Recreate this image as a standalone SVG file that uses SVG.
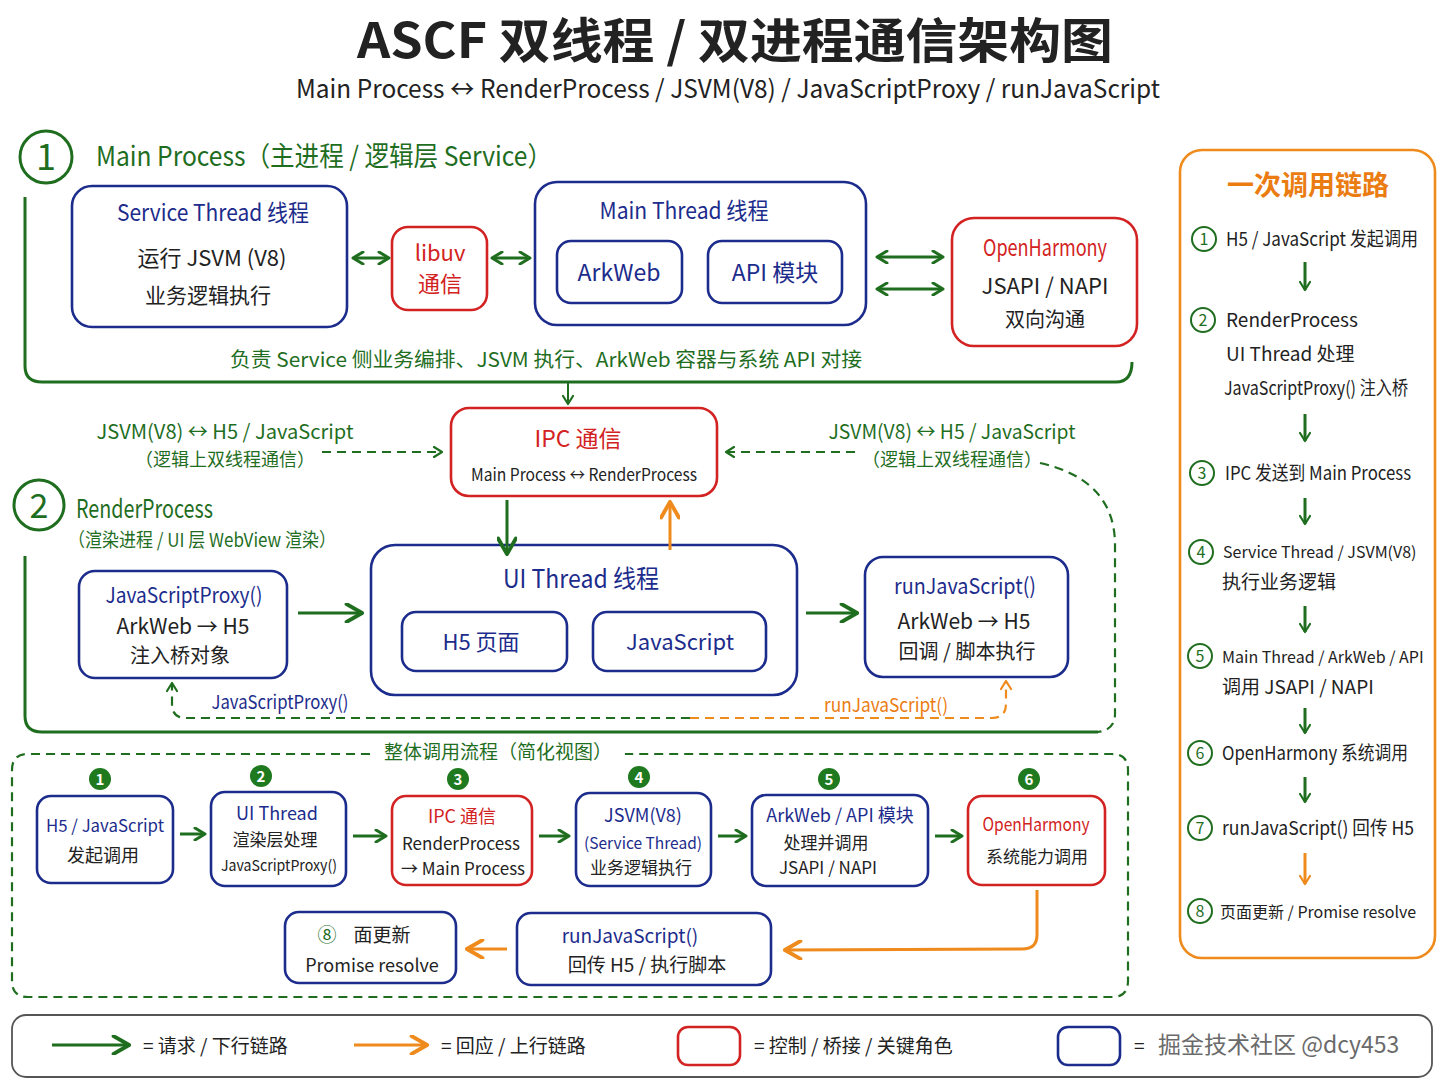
<svg xmlns="http://www.w3.org/2000/svg" width="1448" height="1086" viewBox="0 0 1448 1086">
<defs>
<style>
text{font-family:"Noto Sans CJK SC","Noto Sans",sans-serif;}
.t{text-anchor:middle;}
.g{fill:#1f6e1f;}
.b{fill:#1c2c8c;}
.r{fill:#d32222;}
.o{fill:#ea7c12;}
.k{fill:#222;}
.box{fill:#fff;stroke-width:2.6;}
.bb{stroke:#1c2c8c;}
.rb{stroke:#d32222;}
.ln{fill:none;stroke-width:3;}
.gl{stroke:#1f6e1f;}
.ol{stroke:#ef8a1c;}
.dash{stroke-dasharray:9 6;stroke-width:2.2;}
</style>
<marker id="ag" viewBox="0 0 14 14" refX="11" refY="7" markerWidth="14" markerHeight="14" markerUnits="userSpaceOnUse" orient="auto-start-reverse"><path d="M2,1 L12,7 L2,13" fill="none" stroke="#1f6e1f" stroke-width="3" stroke-linecap="round" stroke-linejoin="round"/></marker>
<marker id="agL" viewBox="0 0 18 18" refX="15" refY="9" markerWidth="20" markerHeight="20" markerUnits="userSpaceOnUse" orient="auto-start-reverse"><path d="M2,1 L16,9 L2,17" fill="none" stroke="#1f6e1f" stroke-width="3.5" stroke-linecap="round" stroke-linejoin="round"/></marker>
<marker id="ao" viewBox="0 0 18 18" refX="15" refY="9" markerWidth="20" markerHeight="20" markerUnits="userSpaceOnUse" orient="auto-start-reverse"><path d="M2,1 L16,9 L2,17" fill="none" stroke="#ef8a1c" stroke-width="3.5" stroke-linecap="round" stroke-linejoin="round"/></marker>
<marker id="agS" viewBox="0 0 12 12" refX="10" refY="6" markerWidth="12" markerHeight="12" markerUnits="userSpaceOnUse" orient="auto-start-reverse"><path d="M2,1 L10,6 L2,11" fill="none" stroke="#1f6e1f" stroke-width="2.2" stroke-linecap="round" stroke-linejoin="round"/></marker>
<marker id="aoS" viewBox="0 0 12 12" refX="10" refY="6" markerWidth="12" markerHeight="12" markerUnits="userSpaceOnUse" orient="auto-start-reverse"><path d="M2,1 L10,6 L2,11" fill="none" stroke="#ef8a1c" stroke-width="2.2" stroke-linecap="round" stroke-linejoin="round"/></marker>
</defs>
<rect width="1448" height="1086" fill="#fff"/>

<!-- Title -->
<g id="title">
<text x="735" y="58" class="t k" font-size="48" font-weight="bold" textLength="756" lengthAdjust="spacingAndGlyphs">ASCF 双线程 / 双进程通信架构图</text>
<text x="728" y="98" class="t k" font-size="25" textLength="864" lengthAdjust="spacingAndGlyphs">Main Process ↔ RenderProcess / JSVM(V8) / JavaScriptProxy / runJavaScript</text>
</g>

<!-- Section 1 -->
<g id="section1">
<circle cx="46" cy="157" r="26" fill="none" stroke="#1f6e1f" stroke-width="3"/>
<text x="46" y="170" class="t g" font-size="36">1</text>
<text x="96" y="166" class="g" font-size="27" textLength="456" lengthAdjust="spacingAndGlyphs">Main Process（主进程 / 逻辑层 Service）</text>
<path d="M25,197 L25,366 Q25,382 42,382 L1116,382 Q1132,382 1132,362" class="ln gl" stroke-width="2.4"/>
<text x="546" y="367" class="t g" font-size="20" textLength="632" lengthAdjust="spacingAndGlyphs">负责 Service 侧业务编排、JSVM 执行、ArkWeb 容器与系统 API 对接</text>
</g>

<g id="service-thread">
<rect x="72" y="186" width="275" height="141" rx="20" class="box bb"/>
<text x="213" y="221" class="t b" font-size="23" textLength="192" lengthAdjust="spacingAndGlyphs">Service Thread 线程</text>
<text x="212" y="266" class="t k" font-size="22">运行 JSVM (V8)</text>
<text x="208" y="303" class="t k" font-size="21">业务逻辑执行</text>
</g>
<g id="libuv">
<rect x="392" y="227" width="95" height="83" rx="16" class="box rb"/>
<text x="440" y="261" class="t r" font-size="22">libuv</text>
<text x="440" y="292" class="t r" font-size="22">通信</text>
</g>
<g id="main-thread">
<rect x="535" y="182" width="331" height="143" rx="22" class="box bb"/>
<text x="684" y="219" class="t b" font-size="23" textLength="169" lengthAdjust="spacingAndGlyphs">Main Thread 线程</text>
</g>
<g id="arkweb">
<rect x="557" y="241" width="125" height="62" rx="14" class="box bb"/>
<text x="619" y="281" class="t b" font-size="23">ArkWeb</text>
</g>
<g id="api-module">
<rect x="708" y="241" width="134" height="62" rx="14" class="box bb"/>
<text x="775" y="281" class="t b" font-size="23">API 模块</text>
</g>
<g id="openharmony">
<rect x="952" y="218" width="185" height="128" rx="22" class="box rb"/>
<text x="1045" y="256" class="t r" font-size="23" textLength="124" lengthAdjust="spacingAndGlyphs">OpenHarmony</text>
<text x="1045" y="294" class="t k" font-size="22">JSAPI / NAPI</text>
<text x="1045" y="327" class="t k" font-size="20">双向沟通</text>
</g>

<!-- IPC -->
<g id="ipc">
<rect x="451" y="408" width="266" height="88" rx="18" class="box rb"/>
<text x="578" y="447" class="t r" font-size="23">IPC 通信</text>
<text x="584" y="481" class="t k" font-size="17" textLength="226" lengthAdjust="spacingAndGlyphs">Main Process ↔ RenderProcess</text>
</g>
<g id="label-left">
<text x="225" y="439" class="t g" font-size="20" textLength="257" lengthAdjust="spacingAndGlyphs">JSVM(V8) ↔ H5 / JavaScript</text>
<text x="225" y="466" class="t g" font-size="18">（逻辑上双线程通信）</text>
</g>
<g id="label-right">
<text x="952" y="439" class="t g" font-size="20" textLength="247" lengthAdjust="spacingAndGlyphs">JSVM(V8) ↔ H5 / JavaScript</text>
<text x="952" y="466" class="t g" font-size="18">（逻辑上双线程通信）</text>
</g>

<!-- Section 2 -->
<g id="section2">
<circle cx="39" cy="505" r="25" fill="none" stroke="#1f6e1f" stroke-width="3"/>
<text x="39" y="518" class="t g" font-size="34">2</text>
<text x="76" y="518" class="g" font-size="26" textLength="137" lengthAdjust="spacingAndGlyphs">RenderProcess</text>
<text x="68" y="547" class="g" font-size="19" textLength="268" lengthAdjust="spacingAndGlyphs">（渲染进程 / UI 层 WebView 渲染）</text>
<path d="M25,556 L25,716 Q25,732 42,732 L1098,732" class="ln gl" stroke-width="2.4"/>
<path d="M1040,463 Q1115,480 1115,545 L1115,714 Q1115,730 1098,732" class="ln gl dash"/>
</g>

<g id="jsproxy">
<rect x="79" y="571" width="208" height="107" rx="16" class="box bb"/>
<text x="184" y="603" class="t b" font-size="21" textLength="157" lengthAdjust="spacingAndGlyphs">JavaScriptProxy()</text>
<text x="183" y="634" class="t k" font-size="21">ArkWeb → H5</text>
<text x="180" y="663" class="t k" font-size="20">注入桥对象</text>
</g>
<g id="ui-thread">
<rect x="371" y="545" width="426" height="150" rx="24" class="box bb"/>
<text x="581" y="588" class="t b" font-size="25" textLength="156" lengthAdjust="spacingAndGlyphs">UI Thread 线程</text>
</g>
<g id="h5-page">
<rect x="402" y="612" width="165" height="59" rx="14" class="box bb"/>
<text x="481" y="650" class="t b" font-size="22">H5 页面</text>
</g>
<g id="javascript">
<rect x="593" y="612" width="173" height="59" rx="14" class="box bb"/>
<text x="680" y="650" class="t b" font-size="22">JavaScript</text>
</g>
<g id="runjs">
<rect x="865" y="557" width="203" height="120" rx="18" class="box bb"/>
<text x="965" y="594" class="t b" font-size="22" textLength="142" lengthAdjust="spacingAndGlyphs">runJavaScript()</text>
<text x="964" y="629" class="t k" font-size="21">ArkWeb → H5</text>
<text x="967" y="659" class="t k" font-size="20">回调 / 脚本执行</text>
</g>
<text x="280" y="709" class="t b" font-size="19" textLength="137" lengthAdjust="spacingAndGlyphs">JavaScriptProxy()</text>
<text x="886" y="712" class="t o" font-size="19" textLength="124" lengthAdjust="spacingAndGlyphs">runJavaScript()</text>

<!-- Bottom flow -->
<g id="flow-frame">
<path d="M370,754 L28,754 Q12,754 12,770 L12,981 Q12,997 28,997 L1112,997 Q1128,997 1128,981 L1128,770 Q1128,754 1112,754 L625,754" class="ln gl dash"/>
<text x="498" y="759" class="t g" font-size="19">整体调用流程（简化视图）</text>
</g>
<g id="steps" font-weight="bold">
<circle cx="100" cy="779" r="11" fill="#1f7a1f"/><text x="100" y="785" class="t" fill="#fff" font-size="15">1</text>
<circle cx="261" cy="776" r="11" fill="#1f7a1f"/><text x="261" y="782" class="t" fill="#fff" font-size="15">2</text>
<circle cx="458" cy="779" r="11" fill="#1f7a1f"/><text x="458" y="785" class="t" fill="#fff" font-size="15">3</text>
<circle cx="639" cy="777" r="11" fill="#1f7a1f"/><text x="639" y="783" class="t" fill="#fff" font-size="15">4</text>
<circle cx="829" cy="779" r="11" fill="#1f7a1f"/><text x="829" y="785" class="t" fill="#fff" font-size="15">5</text>
<circle cx="1029" cy="779" r="11" fill="#1f7a1f"/><text x="1029" y="785" class="t" fill="#fff" font-size="15">6</text>
</g>
<g id="f1">
<rect x="37" y="796" width="136" height="87" rx="14" class="box bb"/>
<text x="105" y="832" class="t b" font-size="17" textLength="118" lengthAdjust="spacingAndGlyphs">H5 / JavaScript</text>
<text x="103" y="862" class="t k" font-size="18">发起调用</text>
</g>
<g id="f2">
<rect x="211" y="792" width="135" height="94" rx="14" class="box bb"/>
<text x="277" y="820" class="t b" font-size="18">UI Thread</text>
<text x="275" y="846" class="t k" font-size="17">渲染层处理</text>
<text x="279" y="871" class="t k" font-size="15" textLength="116" lengthAdjust="spacingAndGlyphs">JavaScriptProxy()</text>
</g>
<g id="f3">
<rect x="392" y="796" width="140" height="89" rx="14" class="box rb"/>
<text x="462" y="823" class="t r" font-size="18">IPC 通信</text>
<text x="461" y="850" class="t k" font-size="17">RenderProcess</text>
<text x="463" y="875" class="t k" font-size="17">→ Main Process</text>
</g>
<g id="f4">
<rect x="576" y="793" width="135" height="93" rx="14" class="box bb"/>
<text x="643" y="822" class="t b" font-size="18">JSVM(V8)</text>
<text x="643" y="849" class="t b" font-size="16" textLength="118" lengthAdjust="spacingAndGlyphs">(Service Thread)</text>
<text x="641" y="874" class="t k" font-size="17">业务逻辑执行</text>
</g>
<g id="f5">
<rect x="752" y="795" width="176" height="91" rx="14" class="box bb"/>
<text x="840" y="822" class="t b" font-size="18">ArkWeb / API 模块</text>
<text x="826" y="849" class="t k" font-size="17">处理并调用</text>
<text x="828" y="874" class="t k" font-size="17">JSAPI / NAPI</text>
</g>
<g id="f6">
<rect x="968" y="796" width="137" height="89" rx="14" class="box rb"/>
<text x="1036" y="831" class="t r" font-size="18" textLength="107" lengthAdjust="spacingAndGlyphs">OpenHarmony</text>
<text x="1037" y="863" class="t k" font-size="17">系统能力调用</text>
</g>
<g id="f7">
<rect x="517" y="913" width="254" height="72" rx="14" class="box bb"/>
<text x="630" y="943" class="t b" font-size="19">runJavaScript()</text>
<text x="647" y="972" class="t k" font-size="19">回传 H5 / 执行脚本</text>
</g>
<g id="f8">
<rect x="285" y="912" width="171" height="71" rx="14" class="box bb"/>
<text x="327" y="942" class="t g" font-size="19">⑧</text>
<text x="382" y="942" class="t k" font-size="19">面更新</text>
<text x="372" y="972" class="t k" font-size="18">Promise resolve</text>
</g>

<!-- Right panel -->
<g id="call-chain">
<rect x="1180" y="150" width="255" height="808" rx="22" fill="#fff" stroke="#ef8a1c" stroke-width="2.6"/>
<text x="1308" y="195" class="t o" font-size="27" font-weight="bold">一次调用链路</text>
<g fill="none" stroke="#1f6e1f" stroke-width="2">
<circle cx="1204" cy="239" r="12"/><circle cx="1203" cy="320" r="12"/><circle cx="1202" cy="473" r="12"/>
<circle cx="1201" cy="552" r="12"/><circle cx="1200" cy="656" r="12"/><circle cx="1200" cy="753" r="12"/>
<circle cx="1200" cy="828" r="12"/><circle cx="1200" cy="911" r="12"/>
</g>
<g class="t g" font-size="16">
<text x="1204" y="245" class="t g">1</text><text x="1203" y="326" class="t g">2</text><text x="1202" y="479" class="t g">3</text>
<text x="1201" y="558" class="t g">4</text><text x="1200" y="662" class="t g">5</text><text x="1200" y="759" class="t g">6</text>
<text x="1200" y="834" class="t g">7</text><text x="1200" y="917" class="t g">8</text>
</g>
<g class="k" font-size="19">
<text x="1226" y="246" textLength="192" lengthAdjust="spacingAndGlyphs">H5 / JavaScript 发起调用</text>
<text x="1226" y="327">RenderProcess</text>
<text x="1226" y="361">UI Thread 处理</text>
<text x="1224" y="395" textLength="184" lengthAdjust="spacingAndGlyphs">JavaScriptProxy() 注入桥</text>
<text x="1225" y="480" textLength="186" lengthAdjust="spacingAndGlyphs">IPC 发送到 Main Process</text>
<text x="1223" y="558" font-size="16">Service Thread / JSVM(V8)</text>
<text x="1222" y="589">执行业务逻辑</text>
<text x="1222" y="663" font-size="16">Main Thread / ArkWeb / API</text>
<text x="1222" y="694">调用 JSAPI / NAPI</text>
<text x="1222" y="760" textLength="186" lengthAdjust="spacingAndGlyphs">OpenHarmony 系统调用</text>
<text x="1222" y="835" textLength="192" lengthAdjust="spacingAndGlyphs">runJavaScript() 回传 H5</text>
<text x="1220" y="918" font-size="16">页面更新 / Promise resolve</text>
</g>
</g>

<!-- Connectors -->
<g id="connectors">
<line x1="354" y1="258" x2="388" y2="258" class="ln gl" marker-start="url(#ag)" marker-end="url(#ag)"/>
<line x1="493" y1="258" x2="529" y2="258" class="ln gl" marker-start="url(#ag)" marker-end="url(#ag)"/>
<line x1="878" y1="257" x2="942" y2="257" class="ln gl" marker-start="url(#ag)" marker-end="url(#ag)"/>
<line x1="878" y1="289" x2="942" y2="289" class="ln gl" marker-start="url(#ag)" marker-end="url(#ag)"/>
<line x1="568" y1="383" x2="568" y2="404" class="gl" stroke-width="2" marker-end="url(#agS)"/>
<line x1="322" y1="452" x2="442" y2="452" class="ln gl dash" marker-end="url(#agS)"/>
<line x1="855" y1="452" x2="726" y2="452" class="ln gl dash" marker-end="url(#agS)"/>
<line x1="507" y1="500" x2="507" y2="553" class="ln gl" marker-end="url(#agL)"/>
<line x1="670" y1="550" x2="670" y2="503" class="ln ol" marker-end="url(#ao)"/>
<line x1="298" y1="613" x2="361" y2="613" class="ln gl" stroke-width="4" marker-end="url(#agL)"/>
<line x1="806" y1="613" x2="856" y2="613" class="ln gl" stroke-width="4" marker-end="url(#agL)"/>
<path d="M690,718 L186,718 Q172,718 172,704 L172,683" class="ln gl dash" marker-end="url(#agS)"/>
<path d="M690,718 L992,718 Q1006,718 1006,704 L1006,681" class="ln ol dash" marker-end="url(#aoS)"/>
<line x1="180" y1="834" x2="204" y2="834" class="ln gl" marker-end="url(#ag)"/>
<line x1="353" y1="836" x2="385" y2="836" class="ln gl" marker-end="url(#ag)"/>
<line x1="539" y1="836" x2="568" y2="836" class="ln gl" marker-end="url(#ag)"/>
<line x1="718" y1="836" x2="745" y2="836" class="ln gl" marker-end="url(#ag)"/>
<line x1="935" y1="836" x2="961" y2="836" class="ln gl" marker-end="url(#ag)"/>
<path d="M1037,890 L1037,935 Q1037,949 1022,949 L786,950" class="ln ol" marker-end="url(#ao)"/>
<line x1="507" y1="949" x2="468" y2="949" class="ln ol" marker-end="url(#ao)"/>
<g class="ln gl" stroke-width="2.5">
<line x1="1305" y1="262" x2="1305" y2="290" marker-end="url(#agS)"/>
<line x1="1305" y1="414" x2="1305" y2="441" marker-end="url(#agS)"/>
<line x1="1305" y1="498" x2="1305" y2="524" marker-end="url(#agS)"/>
<line x1="1305" y1="606" x2="1305" y2="632" marker-end="url(#agS)"/>
<line x1="1305" y1="708" x2="1305" y2="733" marker-end="url(#agS)"/>
<line x1="1305" y1="777" x2="1305" y2="802" marker-end="url(#agS)"/>
</g>
<line x1="1305" y1="853" x2="1305" y2="884" class="ln ol" stroke-width="2.5" marker-end="url(#aoS)"/>
</g>

<!-- Legend -->
<g id="legend">
<rect x="12" y="1015" width="1420" height="62" rx="14" fill="#fff" stroke="#555" stroke-width="1.8"/>
<line x1="52" y1="1045" x2="128" y2="1045" class="ln gl" stroke-width="4" marker-end="url(#agL)"/>
<text x="143" y="1053" class="k" font-size="19">= 请求 / 下行链路</text>
<line x1="354" y1="1045" x2="426" y2="1045" class="ln ol" stroke-width="4" marker-end="url(#ao)"/>
<text x="441" y="1053" class="k" font-size="19">= 回应 / 上行链路</text>
<rect x="678" y="1027" width="62" height="38" rx="10" fill="#fff" stroke="#d32222" stroke-width="2.6"/>
<text x="754" y="1053" class="k" font-size="19">= 控制 / 桥接 / 关键角色</text>
<rect x="1058" y="1027" width="62" height="38" rx="10" fill="#fff" stroke="#1c2c8c" stroke-width="2.6"/>
<text x="1134" y="1053" class="k" font-size="19">=</text>
<text x="1158" y="1053" fill="#6a6a6a" font-size="23">掘金技术社区 @dcy453</text>
</g>
</svg>
